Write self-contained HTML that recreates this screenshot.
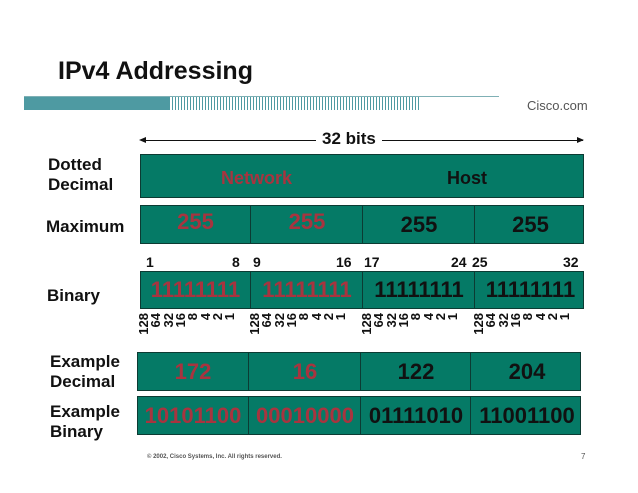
<!DOCTYPE html>
<html><head><meta charset="utf-8"><style>
body{margin:0;width:638px;height:493px;background:#fff;position:relative;overflow:hidden;font-family:"Liberation Sans",Arial,sans-serif;font-weight:bold;}
.a{position:absolute;}
.box{position:absolute;background:#057a66;border:1px solid #0c3b33;box-sizing:border-box;}
.cell{position:absolute;top:0;bottom:0;border-left:1px solid #0c3b33;display:flex;align-items:center;justify-content:center;}
.red{color:#a8343f;}
.blk{color:#111;}
.lbl{position:absolute;font-size:17px;color:#111;line-height:20px;}
.w{position:absolute;width:26px;text-align:right;font-size:13px;line-height:11px;transform:rotate(-90deg);transform-origin:left top;white-space:nowrap;color:#111;}
</style></head><body>
<div class="a" style="left:58px;top:57px;font-size:25px;color:#111;">IPv4 Addressing</div>
<div class="a" style="left:24px;top:96px;width:145px;height:14px;background:#4e9aa2;"></div>
<div class="a" style="left:169px;top:96px;width:250px;height:14px;background:repeating-linear-gradient(90deg,#4e9aa2 0 1px,#fff 1px 3px);"></div>
<div class="a" style="left:24px;top:96px;width:475px;height:1px;background:#7fb0b5;"></div>
<div class="a" style="left:527px;top:98px;font-size:13px;font-weight:normal;color:#555;">Cisco.com</div>

<div class="a" style="left:142px;top:140px;width:441px;height:1px;background:#111;"></div>
<div class="a" style="left:139px;top:137px;width:0;height:0;border-top:3px solid transparent;border-bottom:3px solid transparent;border-right:7px solid #111;"></div>
<div class="a" style="left:577px;top:137px;width:0;height:0;border-top:3px solid transparent;border-bottom:3px solid transparent;border-left:7px solid #111;"></div>
<div class="a" style="left:316px;top:129px;padding:0 6px;background:#fff;font-size:17px;color:#111;">32 bits</div>

<div class="lbl" style="left:48px;top:155px;">Dotted<br>Decimal</div>
<div class="box" style="left:140px;top:154px;width:444px;height:44px;">
 <div class="a red" style="left:80px;top:13px;font-size:18px;">Network</div>
 <div class="a blk" style="left:306px;top:13px;font-size:18px;">Host</div>
</div>

<div class="lbl" style="left:46px;top:217px;">Maximum</div>
<div class="box" style="left:140px;top:205px;width:444px;height:39px;font-size:22px;">
 <div class="cell red" style="left:0;width:109px;border-left:none;padding-bottom:6px;">255</div>
 <div class="cell red" style="left:109px;width:112px;padding-bottom:6px;">255</div>
 <div class="cell blk" style="left:221px;width:112px;">255</div>
 <div class="cell blk" style="left:333px;width:111px;">255</div>
</div>

<div class="a" style="left:0;top:254px;font-size:14px;color:#111;">
 <span class="a" style="left:146px;">1</span><span class="a" style="left:232px;">8</span>
 <span class="a" style="left:253px;">9</span><span class="a" style="left:336px;">16</span>
 <span class="a" style="left:364px;">17</span><span class="a" style="left:451px;">24</span>
 <span class="a" style="left:472px;">25</span><span class="a" style="left:563px;">32</span>
</div>

<div class="lbl" style="left:47px;top:286px;">Binary</div>
<div class="box" style="left:140px;top:271px;width:444px;height:38px;font-size:22px;">
 <div class="cell red" style="left:0;width:109px;border-left:none;">11111111</div>
 <div class="cell red" style="left:109px;width:112px;">11111111</div>
 <div class="cell blk" style="left:221px;width:112px;">11111111</div>
 <div class="cell blk" style="left:333px;width:111px;">11111111</div>
</div>
<div id="weights"></div>

<div class="lbl" style="left:50px;top:352px;">Example<br>Decimal</div>
<div class="box" style="left:137px;top:352px;width:444px;height:39px;font-size:22px;">
 <div class="cell red" style="left:0;width:110px;border-left:none;">172</div>
 <div class="cell red" style="left:110px;width:112px;">16</div>
 <div class="cell blk" style="left:222px;width:110px;">122</div>
 <div class="cell blk" style="left:332px;width:112px;">204</div>
</div>

<div class="lbl" style="left:50px;top:402px;">Example<br>Binary</div>
<div class="box" style="left:137px;top:396px;width:444px;height:39px;font-size:22px;">
 <div class="cell red" style="left:0;width:110px;border-left:none;">10101100</div>
 <div class="cell red" style="left:110px;width:112px;">00010000</div>
 <div class="cell blk" style="left:222px;width:110px;">01111010</div>
 <div class="cell blk" style="left:332px;width:112px;">11001100</div>
</div>

<div class="a" style="left:147px;top:454px;font-size:6px;color:#555;">© 2002, Cisco Systems, Inc. All rights reserved.</div>
<div class="a" style="left:581px;top:452px;font-size:8px;font-weight:normal;color:#555;">7</div>

<script>
const weights=["128","64","32","16","8","4","2","1"];
const starts=[138,249,361,473];
const wrap=document.getElementById('weights');
starts.forEach(function(s){
  weights.forEach(function(w,i){
    const el=document.createElement('div');
    el.className='w';
    
    
    el.textContent=w;
    el.style.left=(s+i*12.3)+'px';
    el.style.top='339px';
    wrap.appendChild(el);
  });
});
</script>
</body></html>
